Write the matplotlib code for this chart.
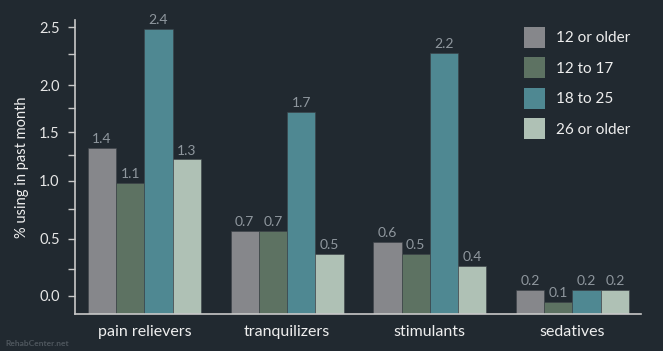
import matplotlib
matplotlib.use("Agg")
import matplotlib.pyplot as plt
import numpy as np
from matplotlib.patches import Patch

categories = ["pain relievers", "tranquilizers", "stimulants", "sedatives"]
series_names = ["12 or older", "12 to 17", "18 to 25", "26 or older"]
v_12_older = [1.4, 0.7, 0.6, 0.2]
v_12_17 = [1.1, 0.7, 0.5, 0.1]
v_18_25 = [2.4, 1.7, 2.2, 0.2]
v_26_older = [1.3, 0.5, 0.4, 0.2]
series_values = [v_12_older, v_12_17, v_18_25, v_26_older]
ytick_labels = ["0.0", "0.5", "1.0", "1.5", "2.0", "2.5"]

# layout (tick positions as drawn in the reference)
ytick_pos = [0.148, 0.632, 1.119, 1.530, 1.927, 2.415]
yminor_pos = [0.378, 0.883, 1.336, 1.732, 2.187]

colors = ["#86878b", "#5d7262", "#4f8892", "#afc1b5"]
bg = "#212930"
fam = ["Lato", "DejaVu Sans"]

fig = plt.figure(figsize=(6.63, 3.51), dpi=100, facecolor=bg)
ax = fig.add_axes([75/663, 1-313.5/351, (641-75)/663, (313.5-20)/351])
ax.set_facecolor(bg)

x = np.arange(len(categories))
w = 0.198
for i, (name, vals) in enumerate(zip(series_names, series_values)):
    pos = x + (i - 1.5) * w
    ax.bar(pos, vals, width=w, color=colors[i], label=name,
           edgecolor="#3a4046", linewidth=0.4)
    for p, v in zip(pos, vals):
        ax.text(p, v + 0.025, f"{v:.1f}", ha="center", va="bottom",
                color="#8f979e", fontsize=10, family=fam)

ax.set_xlim(-0.486, 3.48)
ax.set_ylim(0, 2.477)
ax.set_xticks(x)
ax.set_xticklabels(categories, family=fam, fontsize=11.5, color="#eeeeee")
ax.tick_params(axis="x", length=0, pad=8)
ax.set_yticks(ytick_pos)
ax.set_yticklabels(ytick_labels, family=fam, fontsize=10.5, color="#e6e6e6")
ax.set_yticks(yminor_pos, minor=True)
ax.tick_params(axis="y", which="both", length=5, width=1, color="#c8c8c8", pad=6)
ax.set_ylabel("% using in past month", family=fam, fontsize=10.5, color="#eeeeee", labelpad=7)

for s in ["top", "right"]:
    ax.spines[s].set_visible(False)
for s in ["left", "bottom"]:
    ax.spines[s].set_color("#c8c8c8")
    ax.spines[s].set_linewidth(1.2)

handles = [Patch(facecolor=c, edgecolor="none") for c in colors]
leg = fig.legend(handles, series_names, loc="upper left",
                 bbox_to_anchor=(524/663, 1-26.7/351), frameon=False,
                 borderpad=0, borderaxespad=0, handlelength=1.37, handleheight=1.735,
                 labelspacing=0.63, handletextpad=0.72,
                 prop={"family": fam, "size": 11})
for t in leg.get_texts():
    t.set_color("#eeeeee")

fig.text(5/663, 1-343/351, "RehabCenter.net", color="#4f575e", fontsize=6,
         fontweight="bold", family=fam, va="center", ha="left")

fig.savefig("out.png", dpi=100, facecolor=bg)
